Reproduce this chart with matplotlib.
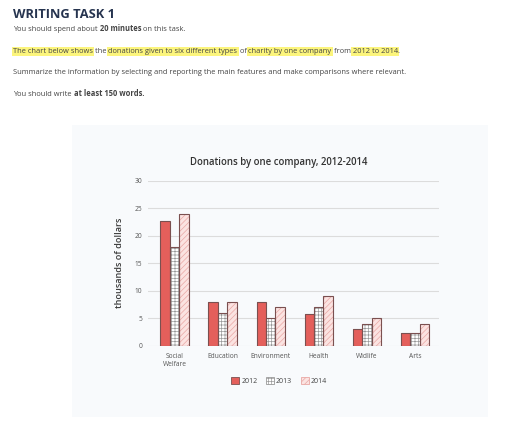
import numpy as np
import matplotlib
matplotlib.use("Agg")
import matplotlib.pyplot as plt
from matplotlib.patches import Rectangle, Patch

# data (thousands of dollars)
categories = ["Social\nWelfare", "Education", "Environment", "Health", "Widlife", "Arts"]
years = ["2012", "2013", "2014"]
vals_2012 = [22.7, 8, 8, 5.8, 3, 2.4]
vals_2013 = [18, 6, 5, 7, 4, 2.4]
vals_2014 = [24, 8, 7, 9, 5, 4]
yticks = [0, 5, 10, 15, 20, 25, 30]

header = "WRITING TASK 1"
line2 = [("You should spend about ", False, False), ("20 minutes", True, False),
         (" on this task.", False, False)]
line3 = [("The chart below shows", False, True), (" the ", False, False),
         ("donations given to six different types", False, True), (" of ", False, False),
         ("charity by one company", False, True), (" from ", False, False),
         ("2012 to 2014", False, True), (".", False, False)]
line4 = [("Summarize the information by selecting and reporting the main features "
          "and make comparisons where relevant.", False, False)]
line5 = [("You should write ", False, False), ("at least 150 words.", True, False)]
title = "Donations by one company, 2012-2014"
ylabel = "thousands of dollars"

FONT = "Open Sans"
plt.rcParams['font.family'] = [FONT, 'DejaVu Sans']
plt.rcParams['hatch.linewidth'] = 0.5

W, H = 512, 437
fig = plt.figure(figsize=(W / 100, H / 100), dpi=100, facecolor='white')


def fx(px):
    return px / W


def fy(py):
    return 1 - py / H


# light chart panel, kept behind the axes
fig.patches.append(Rectangle((fx(72), fy(417)), fx(488) - fx(72), fy(125) - fy(417),
                             transform=fig.transFigure, facecolor='#f8fafc',
                             edgecolor='none', zorder=-1))

renderer = fig.canvas.get_renderer()


def draw_runs(x_px, y_px, runs, size=5.42, color='#444444'):
    # y_px is the baseline of the line
    x = x_px
    for text, bold, hl in runs:
        kw = {}
        if hl:
            kw['bbox'] = dict(facecolor='#fcf57c', edgecolor='none', pad=0.8)
        t = fig.text(fx(x), fy(y_px), text, fontsize=size, color=color,
                     fontweight='bold' if bold else 'normal', va='baseline', ha='left', **kw)
        bb = t.get_window_extent(renderer)
        x += bb.width


fig.text(fx(13), fy(18), header, fontsize=9.3, fontweight='bold', color='#26344f',
         va='baseline', ha='left')
draw_runs(13, 31, line2)
draw_runs(13, 53, line3)
draw_runs(13, 74, line4)
draw_runs(13, 96, line5)

# chart axes
ax = fig.add_axes([fx(148), fy(345.7), fx(439) - fx(148), fy(180.7) - fy(345.7)])
ax.set_facecolor('none')
x = np.arange(len(categories))
w = 0.195
edge = '#7a5050'

series = [
    (vals_2012, -w, '#e45f5b', None, '#e45f5b'),
    (vals_2013, 0, 'white', '+++++', '#999999'),
    (vals_2014, w, '#fbe3e1', '//////', '#e9a8a5'),
]
for vals, off, fc, hatch, hc in series:
    ax.bar(x + off, vals, width=w, color=fc, hatch=hatch, edgecolor=hc, linewidth=0, zorder=2)
    ax.bar(x + off, vals, width=w, fill=False, edgecolor=edge, linewidth=0.8, zorder=3)

ax.set_xlim(-0.55, 5.5)
ax.set_ylim(0, 30)
ax.set_yticks(yticks)
ax.set_yticklabels([str(v) for v in yticks], fontsize=4.8, color='#555555')
ax.set_xticks(x)
ax.set_xticklabels(categories, fontsize=4.8, color='#555555', linespacing=1.15)
ax.tick_params(axis='y', length=0, pad=4)
ax.tick_params(axis='x', length=0, pad=5.5)
ax.grid(axis='y', color='#dcdcdc', linewidth=0.8, zorder=0)
ax.set_axisbelow(True)
for s in ax.spines.values():
    s.set_visible(False)

ax.set_ylabel(ylabel, fontsize=6.6, fontweight='semibold', color='#3a3a3a', labelpad=8)
fig.text(fx(279), fy(162), title, fontsize=6.9, fontweight='semibold', color='#333333',
         ha='center', va='center')

handles = [
    Patch(facecolor='#e45f5b', edgecolor=edge, linewidth=0.6),
    Patch(facecolor='white', edgecolor='#999999', hatch='+++++', linewidth=0.6),
    Patch(facecolor='#fbe3e1', edgecolor='#e9a8a5', hatch='//////', linewidth=0.6),
]
fig.legend(handles, years, loc='center', bbox_to_anchor=(fx(279), fy(381)), ncol=3,
           frameon=False, fontsize=5, handlelength=1.25, handleheight=1.25,
           handletextpad=0.25, columnspacing=1.2, labelcolor='#444444')

fig.savefig('out.png', dpi=100, facecolor='white')
